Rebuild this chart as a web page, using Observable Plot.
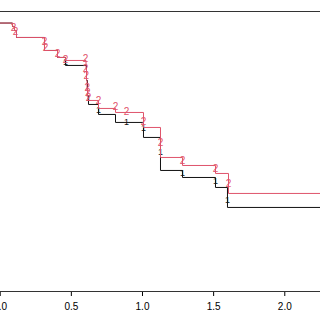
<!DOCTYPE html>
<html>
<head>
<meta charset="utf-8">
<script src="https://cdn.jsdelivr.net/npm/d3@7"></script>
<script src="https://cdn.jsdelivr.net/npm/@observablehq/plot@0.6"></script>
<style>
  html, body { margin: 0; padding: 0; background: #fff; }
  #chart svg { display: block; }
</style>
</head>
<body>
<div id="chart"></div>
<script>
// Group 1 (black) Kaplan–Meier steps
const blackTimes = [0, 0.0864, 0.1005, 0.1145, 0.3113, 0.4027, 0.4589, 0.6065, 0.6135, 0.6205, 0.6908, 0.8103, 1.0070, 1.1265, 1.2811, 1.5130, 1.5973, 2.3];
const blackSurv  = [1, 0.9868, 0.9712, 0.9439, 0.8933, 0.8661, 0.8350, 0.7767, 0.7183, 0.6831, 0.6442, 0.6131, 0.5547, 0.4262, 0.3989, 0.3600, 0.2822, 0.2822];
// Group 2 (red) Kaplan–Meier steps
const redTimes = [0, 0.0864, 0.1005, 0.1145, 0.3113, 0.4027, 0.4589, 0.6030, 0.6065, 0.6100, 0.6135, 0.6170, 0.6908, 0.8103, 1.0070, 1.1265, 1.2811, 1.5130, 1.6044, 2.3];
const redSurv  = [1, 0.9868, 0.9712, 0.9439, 0.8933, 0.8661, 0.8544, 0.8233, 0.7767, 0.7454, 0.7183, 0.6987, 0.6676, 0.6520, 0.5936, 0.4768, 0.4456, 0.4145, 0.3367, 0.3367];
// Censoring marks
const blackCensorTimes = [0.4589, 0.6205, 0.6908, 0.8876, 1.0070, 1.1265, 1.2811, 1.5130, 1.5973];
const blackCensorSurv  = [0.8466, 0.7065, 0.6598, 0.6131, 0.5897, 0.4963, 0.4145, 0.3834, 0.3094];
const redCensorTimes = [0.0935, 0.1075, 0.3113, 0.3183, 0.4027, 0.4589, 0.5994, 0.5994, 0.6044, 0.6115, 0.6156, 0.6205, 0.6908, 0.8103, 0.8876, 1.0070, 1.1265, 1.2811, 1.5130, 1.6044];
const redCensorSurv  = [0.9829, 0.9673, 0.9284, 0.9050, 0.8817, 0.8583, 0.8622, 0.8233, 0.7960, 0.7493, 0.7300, 0.7104, 0.6987, 0.6754, 0.6559, 0.6170, 0.5352, 0.4651, 0.4339, 0.3756];
const blackLabel = "1";
const redLabel = "2";
const xTicks = [0, 0.5, 1.0, 1.5, 2.0];

const blackData = blackTimes.map((t, i) => ({t, s: blackSurv[i]}));
const redData = redTimes.map((t, i) => ({t, s: redSurv[i]}));
const blackCens = blackCensorTimes.map((t, i) => ({t, s: blackCensorSurv[i]}));
const redCens = redCensorTimes.map((t, i) => ({t, s: redCensorSurv[i]}));

const yMin = -0.045, yMax = 1.045;
const red = "#DF536B";

const chart = Plot.plot({
  width: 320,
  height: 320,
  marginLeft: 0,
  marginRight: 0,
  marginTop: 11,
  marginBottom: 29,
  style: {fontFamily: "'Liberation Sans', Arial, sans-serif", fontSize: "10px", background: "#fff"},
  x: {domain: [0.0021, 2.251], ticks: xTicks, tickFormat: d => d.toFixed(1), tickSize: 5, tickPadding: 6, label: null},
  y: {domain: [yMin, yMax], axis: null},
  marks: [
    Plot.ruleY([yMax], {stroke: "#333", strokeWidth: 1}),
    Plot.ruleY([yMin], {stroke: "#333", strokeWidth: 1}),
    Plot.line(blackData, {x: "t", y: "s", curve: "step-after", stroke: "#111", strokeWidth: 1}),
    Plot.text(blackCens, {x: "t", y: "s", text: () => blackLabel, fill: "#111", fontSize: 9}),
    Plot.line(redData, {x: "t", y: "s", curve: "step-after", stroke: red, strokeWidth: 1}),
    Plot.text(redCens, {x: "t", y: "s", text: () => redLabel, fill: red, fontSize: 10})
  ]
});
document.getElementById("chart").appendChild(chart);
</script>
</body>
</html>
